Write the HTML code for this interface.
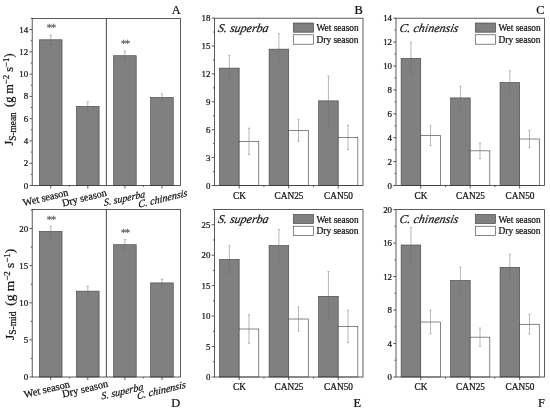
<!DOCTYPE html>
<html><head><meta charset="utf-8"><title>Figure</title>
<style>html,body{margin:0;padding:0;background:#fff;}svg{display:block}text{font-family:"Liberation Serif","Times New Roman",serif;fill:#111;stroke:#111;stroke-width:0.22px;}</style>
</head><body>
<svg width="550" height="412" viewBox="0 0 550 412">
<rect width="550" height="412" fill="#ffffff"/>
<rect x="39.44" y="39.79" width="22.60" height="145.71" fill="#808080" stroke="#454545" stroke-width="0.65"/>
<line x1="50.74" y1="35.22" x2="50.74" y2="44.36" stroke="#707070" stroke-width="0.5"/>
<line x1="49.64" y1="35.22" x2="51.84" y2="35.22" stroke="#707070" stroke-width="0.5"/>
<line x1="49.64" y1="44.36" x2="51.84" y2="44.36" stroke="#707070" stroke-width="0.5"/>
<rect x="76.51" y="106.41" width="22.60" height="79.09" fill="#808080" stroke="#454545" stroke-width="0.65"/>
<line x1="87.81" y1="101.84" x2="87.81" y2="110.97" stroke="#707070" stroke-width="0.5"/>
<line x1="86.71" y1="101.84" x2="88.91" y2="101.84" stroke="#707070" stroke-width="0.5"/>
<line x1="86.71" y1="110.97" x2="88.91" y2="110.97" stroke="#707070" stroke-width="0.5"/>
<rect x="113.59" y="55.72" width="22.60" height="129.78" fill="#808080" stroke="#454545" stroke-width="0.65"/>
<line x1="124.89" y1="50.93" x2="124.89" y2="60.51" stroke="#707070" stroke-width="0.5"/>
<line x1="123.79" y1="50.93" x2="125.99" y2="50.93" stroke="#707070" stroke-width="0.5"/>
<line x1="123.79" y1="60.51" x2="125.99" y2="60.51" stroke="#707070" stroke-width="0.5"/>
<rect x="150.66" y="97.49" width="22.60" height="88.01" fill="#808080" stroke="#454545" stroke-width="0.65"/>
<line x1="161.96" y1="93.82" x2="161.96" y2="101.17" stroke="#707070" stroke-width="0.5"/>
<line x1="160.86" y1="93.82" x2="163.06" y2="93.82" stroke="#707070" stroke-width="0.5"/>
<line x1="160.86" y1="101.17" x2="163.06" y2="101.17" stroke="#707070" stroke-width="0.5"/>
<line x1="106.35" y1="18.40" x2="106.35" y2="185.50" stroke="#333333" stroke-width="0.9"/>
<rect x="32.20" y="18.40" width="148.30" height="167.10" fill="none" stroke="#333333" stroke-width="0.8"/>
<line x1="29.50" y1="185.50" x2="32.20" y2="185.50" stroke="#333333" stroke-width="0.8"/>
<text x="28.20" y="188.50" font-size="8.9" text-anchor="end"  >0</text>
<line x1="29.50" y1="163.22" x2="32.20" y2="163.22" stroke="#333333" stroke-width="0.8"/>
<text x="28.20" y="166.22" font-size="8.9" text-anchor="end"  >2</text>
<line x1="29.50" y1="140.94" x2="32.20" y2="140.94" stroke="#333333" stroke-width="0.8"/>
<text x="28.20" y="143.94" font-size="8.9" text-anchor="end"  >4</text>
<line x1="29.50" y1="118.66" x2="32.20" y2="118.66" stroke="#333333" stroke-width="0.8"/>
<text x="28.20" y="121.66" font-size="8.9" text-anchor="end"  >6</text>
<line x1="29.50" y1="96.38" x2="32.20" y2="96.38" stroke="#333333" stroke-width="0.8"/>
<text x="28.20" y="99.38" font-size="8.9" text-anchor="end"  >8</text>
<line x1="29.50" y1="74.10" x2="32.20" y2="74.10" stroke="#333333" stroke-width="0.8"/>
<text x="28.20" y="77.10" font-size="8.9" text-anchor="end"  >10</text>
<line x1="29.50" y1="51.82" x2="32.20" y2="51.82" stroke="#333333" stroke-width="0.8"/>
<text x="28.20" y="54.82" font-size="8.9" text-anchor="end"  >12</text>
<line x1="29.50" y1="29.54" x2="32.20" y2="29.54" stroke="#333333" stroke-width="0.8"/>
<text x="28.20" y="32.54" font-size="8.9" text-anchor="end"  >14</text>
<line x1="30.80" y1="174.36" x2="32.20" y2="174.36" stroke="#333333" stroke-width="0.8"/>
<line x1="30.80" y1="152.08" x2="32.20" y2="152.08" stroke="#333333" stroke-width="0.8"/>
<line x1="30.80" y1="129.80" x2="32.20" y2="129.80" stroke="#333333" stroke-width="0.8"/>
<line x1="30.80" y1="107.52" x2="32.20" y2="107.52" stroke="#333333" stroke-width="0.8"/>
<line x1="30.80" y1="85.24" x2="32.20" y2="85.24" stroke="#333333" stroke-width="0.8"/>
<line x1="30.80" y1="62.96" x2="32.20" y2="62.96" stroke="#333333" stroke-width="0.8"/>
<line x1="30.80" y1="40.68" x2="32.20" y2="40.68" stroke="#333333" stroke-width="0.8"/>
<line x1="30.80" y1="18.40" x2="32.20" y2="18.40" stroke="#333333" stroke-width="0.8"/>
<text x="180.60" y="13.80" font-size="12.4" text-anchor="end"  >A</text>
<line x1="50.74" y1="185.50" x2="50.74" y2="188.50" stroke="#333333" stroke-width="0.8"/>
<line x1="87.81" y1="185.50" x2="87.81" y2="188.50" stroke="#333333" stroke-width="0.8"/>
<line x1="124.89" y1="185.50" x2="124.89" y2="188.50" stroke="#333333" stroke-width="0.8"/>
<line x1="161.96" y1="185.50" x2="161.96" y2="188.50" stroke="#333333" stroke-width="0.8"/>
<line x1="69.28" y1="185.50" x2="69.28" y2="186.80" stroke="#333333" stroke-width="0.8"/>
<line x1="143.43" y1="185.50" x2="143.43" y2="186.80" stroke="#333333" stroke-width="0.8"/>
<text x="50.94" y="30.90" font-size="10.2" text-anchor="middle" style="fill:#6c6c6c;stroke:#6c6c6c;stroke-width:0.3px" letter-spacing="-0.9" >**</text>
<text x="125.09" y="46.90" font-size="10.2" text-anchor="middle" style="fill:#6c6c6c;stroke:#6c6c6c;stroke-width:0.3px" letter-spacing="-0.9" >**</text>
<text transform="translate(23.80,206.20) rotate(-13.5)" font-size="10.3" >Wet season</text>
<text transform="translate(62.90,206.40) rotate(-13.8)" font-size="10.2" >Dry season</text>
<text transform="translate(104.00,205.90) rotate(-12) skewX(-11)" font-size="10" font-style="italic">S. superba</text>
<text transform="translate(138.60,207.80) rotate(-13.5) skewX(-11)" font-size="10.3" font-style="italic">C. chinensis</text>
<text transform="translate(13.40,99.40) rotate(-90)" font-size="12.3" text-anchor="middle">J<tspan font-size="9.3" dy="2.5">S-mean</tspan><tspan dy="-2.5" dx="2.2"> (g m</tspan><tspan font-size="8.8" dy="-4">−2</tspan><tspan dy="4"> s</tspan><tspan font-size="8.8" dy="-4">−1</tspan><tspan dy="4">)</tspan></text>
<rect x="39.44" y="231.42" width="22.60" height="145.58" fill="#808080" stroke="#454545" stroke-width="0.65"/>
<line x1="50.74" y1="226.23" x2="50.74" y2="236.61" stroke="#707070" stroke-width="0.5"/>
<line x1="49.64" y1="226.23" x2="51.84" y2="226.23" stroke="#707070" stroke-width="0.5"/>
<line x1="49.64" y1="236.61" x2="51.84" y2="236.61" stroke="#707070" stroke-width="0.5"/>
<rect x="76.51" y="291.15" width="22.60" height="85.85" fill="#808080" stroke="#454545" stroke-width="0.65"/>
<line x1="87.81" y1="286.33" x2="87.81" y2="295.97" stroke="#707070" stroke-width="0.5"/>
<line x1="86.71" y1="286.33" x2="88.91" y2="286.33" stroke="#707070" stroke-width="0.5"/>
<line x1="86.71" y1="295.97" x2="88.91" y2="295.97" stroke="#707070" stroke-width="0.5"/>
<rect x="113.59" y="244.70" width="22.60" height="132.30" fill="#808080" stroke="#454545" stroke-width="0.65"/>
<line x1="124.89" y1="239.58" x2="124.89" y2="249.82" stroke="#707070" stroke-width="0.5"/>
<line x1="123.79" y1="239.58" x2="125.99" y2="239.58" stroke="#707070" stroke-width="0.5"/>
<line x1="123.79" y1="249.82" x2="125.99" y2="249.82" stroke="#707070" stroke-width="0.5"/>
<rect x="150.66" y="282.91" width="22.60" height="94.09" fill="#808080" stroke="#454545" stroke-width="0.65"/>
<line x1="161.96" y1="279.20" x2="161.96" y2="286.62" stroke="#707070" stroke-width="0.5"/>
<line x1="160.86" y1="279.20" x2="163.06" y2="279.20" stroke="#707070" stroke-width="0.5"/>
<line x1="160.86" y1="286.62" x2="163.06" y2="286.62" stroke="#707070" stroke-width="0.5"/>
<line x1="106.35" y1="209.50" x2="106.35" y2="377.00" stroke="#333333" stroke-width="0.9"/>
<rect x="32.20" y="209.50" width="148.30" height="167.50" fill="none" stroke="#333333" stroke-width="0.8"/>
<line x1="29.50" y1="377.00" x2="32.20" y2="377.00" stroke="#333333" stroke-width="0.8"/>
<text x="28.20" y="380.00" font-size="8.9" text-anchor="end"  >0</text>
<line x1="29.50" y1="339.90" x2="32.20" y2="339.90" stroke="#333333" stroke-width="0.8"/>
<text x="28.20" y="342.90" font-size="8.9" text-anchor="end"  >5</text>
<line x1="29.50" y1="302.80" x2="32.20" y2="302.80" stroke="#333333" stroke-width="0.8"/>
<text x="28.20" y="305.80" font-size="8.9" text-anchor="end"  >10</text>
<line x1="29.50" y1="265.70" x2="32.20" y2="265.70" stroke="#333333" stroke-width="0.8"/>
<text x="28.20" y="268.70" font-size="8.9" text-anchor="end"  >15</text>
<line x1="29.50" y1="228.60" x2="32.20" y2="228.60" stroke="#333333" stroke-width="0.8"/>
<text x="28.20" y="231.60" font-size="8.9" text-anchor="end"  >20</text>
<line x1="30.80" y1="358.45" x2="32.20" y2="358.45" stroke="#333333" stroke-width="0.8"/>
<line x1="30.80" y1="321.35" x2="32.20" y2="321.35" stroke="#333333" stroke-width="0.8"/>
<line x1="30.80" y1="284.25" x2="32.20" y2="284.25" stroke="#333333" stroke-width="0.8"/>
<line x1="30.80" y1="247.15" x2="32.20" y2="247.15" stroke="#333333" stroke-width="0.8"/>
<line x1="30.80" y1="210.05" x2="32.20" y2="210.05" stroke="#333333" stroke-width="0.8"/>
<text x="180.20" y="406.60" font-size="12.4" text-anchor="end"  >D</text>
<line x1="50.74" y1="377.00" x2="50.74" y2="380.00" stroke="#333333" stroke-width="0.8"/>
<line x1="87.81" y1="377.00" x2="87.81" y2="380.00" stroke="#333333" stroke-width="0.8"/>
<line x1="124.89" y1="377.00" x2="124.89" y2="380.00" stroke="#333333" stroke-width="0.8"/>
<line x1="161.96" y1="377.00" x2="161.96" y2="380.00" stroke="#333333" stroke-width="0.8"/>
<line x1="69.28" y1="377.00" x2="69.28" y2="378.30" stroke="#333333" stroke-width="0.8"/>
<line x1="143.43" y1="377.00" x2="143.43" y2="378.30" stroke="#333333" stroke-width="0.8"/>
<text x="50.94" y="222.60" font-size="10.2" text-anchor="middle" style="fill:#6c6c6c;stroke:#6c6c6c;stroke-width:0.3px" letter-spacing="-0.9" >**</text>
<text x="125.09" y="236.10" font-size="10.2" text-anchor="middle" style="fill:#6c6c6c;stroke:#6c6c6c;stroke-width:0.3px" letter-spacing="-0.9" >**</text>
<text transform="translate(24.80,398.00) rotate(-13.5)" font-size="10.4" >Wet season</text>
<text transform="translate(63.00,397.60) rotate(-13.5)" font-size="10.5" >Dry season</text>
<text transform="translate(101.50,399.60) rotate(-13) skewX(-11)" font-size="10.2" font-style="italic">S. superba</text>
<text transform="translate(137.20,399.40) rotate(-13.5) skewX(-11)" font-size="10.25" font-style="italic">C. chinensis</text>
<text transform="translate(13.70,294.30) rotate(-90)" font-size="13.4" text-anchor="middle">J<tspan font-size="9.5" dy="2.5">S-mid</tspan><tspan dy="-2.5" dx="2.4"> (g m</tspan><tspan font-size="9.0" dy="-4">−2</tspan><tspan dy="4"> s</tspan><tspan font-size="9.0" dy="-4">−1</tspan><tspan dy="4">)</tspan></text>
<rect x="219.57" y="68.13" width="19.60" height="117.37" fill="#808080" stroke="#454545" stroke-width="0.65"/>
<line x1="229.37" y1="55.49" x2="229.37" y2="80.78" stroke="#707070" stroke-width="0.5"/>
<line x1="228.37" y1="55.49" x2="230.37" y2="55.49" stroke="#707070" stroke-width="0.5"/>
<line x1="228.37" y1="80.78" x2="230.37" y2="80.78" stroke="#707070" stroke-width="0.5"/>
<rect x="239.17" y="141.32" width="19.60" height="44.18" fill="#ffffff" stroke="#454545" stroke-width="0.65"/>
<line x1="248.97" y1="128.21" x2="248.97" y2="154.44" stroke="#707070" stroke-width="0.5"/>
<line x1="247.97" y1="128.21" x2="249.97" y2="128.21" stroke="#707070" stroke-width="0.5"/>
<line x1="247.97" y1="154.44" x2="249.97" y2="154.44" stroke="#707070" stroke-width="0.5"/>
<rect x="269.10" y="49.16" width="19.60" height="136.34" fill="#808080" stroke="#454545" stroke-width="0.65"/>
<line x1="278.90" y1="33.63" x2="278.90" y2="64.69" stroke="#707070" stroke-width="0.5"/>
<line x1="277.90" y1="33.63" x2="279.90" y2="33.63" stroke="#707070" stroke-width="0.5"/>
<line x1="277.90" y1="64.69" x2="279.90" y2="64.69" stroke="#707070" stroke-width="0.5"/>
<rect x="288.70" y="130.35" width="19.60" height="55.15" fill="#ffffff" stroke="#454545" stroke-width="0.65"/>
<line x1="298.50" y1="119.38" x2="298.50" y2="141.32" stroke="#707070" stroke-width="0.5"/>
<line x1="297.50" y1="119.38" x2="299.50" y2="119.38" stroke="#707070" stroke-width="0.5"/>
<line x1="297.50" y1="141.32" x2="299.50" y2="141.32" stroke="#707070" stroke-width="0.5"/>
<rect x="318.63" y="100.87" width="19.60" height="84.63" fill="#808080" stroke="#454545" stroke-width="0.65"/>
<line x1="328.43" y1="76.04" x2="328.43" y2="125.70" stroke="#707070" stroke-width="0.5"/>
<line x1="327.43" y1="76.04" x2="329.43" y2="76.04" stroke="#707070" stroke-width="0.5"/>
<line x1="327.43" y1="125.70" x2="329.43" y2="125.70" stroke="#707070" stroke-width="0.5"/>
<rect x="338.23" y="137.42" width="19.60" height="48.08" fill="#ffffff" stroke="#454545" stroke-width="0.65"/>
<line x1="348.03" y1="125.33" x2="348.03" y2="149.51" stroke="#707070" stroke-width="0.5"/>
<line x1="347.03" y1="125.33" x2="349.03" y2="125.33" stroke="#707070" stroke-width="0.5"/>
<line x1="347.03" y1="149.51" x2="349.03" y2="149.51" stroke="#707070" stroke-width="0.5"/>
<rect x="214.40" y="18.20" width="148.60" height="167.30" fill="none" stroke="#333333" stroke-width="0.8"/>
<line x1="211.70" y1="185.50" x2="214.40" y2="185.50" stroke="#333333" stroke-width="0.8"/>
<text x="210.40" y="188.50" font-size="8.9" text-anchor="end"  >0</text>
<line x1="211.70" y1="157.60" x2="214.40" y2="157.60" stroke="#333333" stroke-width="0.8"/>
<text x="210.40" y="160.60" font-size="8.9" text-anchor="end"  >3</text>
<line x1="211.70" y1="129.70" x2="214.40" y2="129.70" stroke="#333333" stroke-width="0.8"/>
<text x="210.40" y="132.70" font-size="8.9" text-anchor="end"  >6</text>
<line x1="211.70" y1="101.80" x2="214.40" y2="101.80" stroke="#333333" stroke-width="0.8"/>
<text x="210.40" y="104.80" font-size="8.9" text-anchor="end"  >9</text>
<line x1="211.70" y1="73.90" x2="214.40" y2="73.90" stroke="#333333" stroke-width="0.8"/>
<text x="210.40" y="76.90" font-size="8.9" text-anchor="end"  >12</text>
<line x1="211.70" y1="46.00" x2="214.40" y2="46.00" stroke="#333333" stroke-width="0.8"/>
<text x="210.40" y="49.00" font-size="8.9" text-anchor="end"  >15</text>
<line x1="211.70" y1="18.10" x2="214.40" y2="18.10" stroke="#333333" stroke-width="0.8"/>
<text x="210.40" y="21.10" font-size="8.9" text-anchor="end"  >18</text>
<line x1="213.00" y1="171.55" x2="214.40" y2="171.55" stroke="#333333" stroke-width="0.8"/>
<line x1="213.00" y1="143.65" x2="214.40" y2="143.65" stroke="#333333" stroke-width="0.8"/>
<line x1="213.00" y1="115.75" x2="214.40" y2="115.75" stroke="#333333" stroke-width="0.8"/>
<line x1="213.00" y1="87.85" x2="214.40" y2="87.85" stroke="#333333" stroke-width="0.8"/>
<line x1="213.00" y1="59.95" x2="214.40" y2="59.95" stroke="#333333" stroke-width="0.8"/>
<line x1="213.00" y1="32.05" x2="214.40" y2="32.05" stroke="#333333" stroke-width="0.8"/>
<text x="362.80" y="14.20" font-size="12.4" text-anchor="end"  >B</text>
<line x1="239.17" y1="185.50" x2="239.17" y2="188.50" stroke="#333333" stroke-width="0.8"/>
<line x1="288.70" y1="185.50" x2="288.70" y2="188.50" stroke="#333333" stroke-width="0.8"/>
<line x1="338.23" y1="185.50" x2="338.23" y2="188.50" stroke="#333333" stroke-width="0.8"/>
<line x1="263.93" y1="185.50" x2="263.93" y2="187.10" stroke="#333333" stroke-width="0.8"/>
<line x1="313.47" y1="185.50" x2="313.47" y2="187.10" stroke="#333333" stroke-width="0.8"/>
<text x="239.47" y="198.50" font-size="9.3" text-anchor="middle"  >CK</text>
<text x="289.00" y="198.50" font-size="9.3" text-anchor="middle"  >CAN25</text>
<text x="338.53" y="198.50" font-size="9.3" text-anchor="middle"  >CAN50</text>
<text transform="translate(217.40,31.50) skewX(-11)" font-size="12" font-style="italic">S. superba</text>
<rect x="293.30" y="23.00" width="20.30" height="9.20" fill="#808080" stroke="#454545" stroke-width="0.65"/>
<rect x="293.30" y="34.80" width="20.30" height="9.40" fill="#ffffff" stroke="#454545" stroke-width="0.65"/>
<text x="316.50" y="31.40" font-size="9.4" text-anchor="start"  >Wet season</text>
<text x="316.50" y="42.80" font-size="9.4" text-anchor="start"  >Dry season</text>
<rect x="401.13" y="58.35" width="19.60" height="127.15" fill="#808080" stroke="#454545" stroke-width="0.65"/>
<line x1="410.93" y1="42.34" x2="410.93" y2="74.37" stroke="#707070" stroke-width="0.5"/>
<line x1="409.93" y1="42.34" x2="411.93" y2="42.34" stroke="#707070" stroke-width="0.5"/>
<line x1="409.93" y1="74.37" x2="411.93" y2="74.37" stroke="#707070" stroke-width="0.5"/>
<rect x="420.73" y="135.67" width="19.60" height="49.83" fill="#ffffff" stroke="#454545" stroke-width="0.65"/>
<line x1="430.53" y1="125.75" x2="430.53" y2="145.59" stroke="#707070" stroke-width="0.5"/>
<line x1="429.53" y1="125.75" x2="431.53" y2="125.75" stroke="#707070" stroke-width="0.5"/>
<line x1="429.53" y1="145.59" x2="431.53" y2="145.59" stroke="#707070" stroke-width="0.5"/>
<rect x="450.60" y="97.91" width="19.60" height="87.59" fill="#808080" stroke="#454545" stroke-width="0.65"/>
<line x1="460.40" y1="86.08" x2="460.40" y2="109.74" stroke="#707070" stroke-width="0.5"/>
<line x1="459.40" y1="86.08" x2="461.40" y2="86.08" stroke="#707070" stroke-width="0.5"/>
<line x1="459.40" y1="109.74" x2="461.40" y2="109.74" stroke="#707070" stroke-width="0.5"/>
<rect x="470.20" y="150.84" width="19.60" height="34.66" fill="#ffffff" stroke="#454545" stroke-width="0.65"/>
<line x1="480.00" y1="143.08" x2="480.00" y2="158.61" stroke="#707070" stroke-width="0.5"/>
<line x1="479.00" y1="143.08" x2="481.00" y2="143.08" stroke="#707070" stroke-width="0.5"/>
<line x1="479.00" y1="158.61" x2="481.00" y2="158.61" stroke="#707070" stroke-width="0.5"/>
<rect x="500.07" y="82.49" width="19.60" height="103.01" fill="#808080" stroke="#454545" stroke-width="0.65"/>
<line x1="509.87" y1="70.78" x2="509.87" y2="94.20" stroke="#707070" stroke-width="0.5"/>
<line x1="508.87" y1="70.78" x2="510.87" y2="70.78" stroke="#707070" stroke-width="0.5"/>
<line x1="508.87" y1="94.20" x2="510.87" y2="94.20" stroke="#707070" stroke-width="0.5"/>
<rect x="519.67" y="139.01" width="19.60" height="46.49" fill="#ffffff" stroke="#454545" stroke-width="0.65"/>
<line x1="529.47" y1="130.29" x2="529.47" y2="147.74" stroke="#707070" stroke-width="0.5"/>
<line x1="528.47" y1="130.29" x2="530.47" y2="130.29" stroke="#707070" stroke-width="0.5"/>
<line x1="528.47" y1="147.74" x2="530.47" y2="147.74" stroke="#707070" stroke-width="0.5"/>
<rect x="396.00" y="18.20" width="148.40" height="167.30" fill="none" stroke="#333333" stroke-width="0.8"/>
<line x1="393.30" y1="185.50" x2="396.00" y2="185.50" stroke="#333333" stroke-width="0.8"/>
<text x="392.00" y="188.50" font-size="8.9" text-anchor="end"  >0</text>
<line x1="393.30" y1="161.60" x2="396.00" y2="161.60" stroke="#333333" stroke-width="0.8"/>
<text x="392.00" y="164.60" font-size="8.9" text-anchor="end"  >2</text>
<line x1="393.30" y1="137.70" x2="396.00" y2="137.70" stroke="#333333" stroke-width="0.8"/>
<text x="392.00" y="140.70" font-size="8.9" text-anchor="end"  >4</text>
<line x1="393.30" y1="113.80" x2="396.00" y2="113.80" stroke="#333333" stroke-width="0.8"/>
<text x="392.00" y="116.80" font-size="8.9" text-anchor="end"  >6</text>
<line x1="393.30" y1="89.90" x2="396.00" y2="89.90" stroke="#333333" stroke-width="0.8"/>
<text x="392.00" y="92.90" font-size="8.9" text-anchor="end"  >8</text>
<line x1="393.30" y1="66.00" x2="396.00" y2="66.00" stroke="#333333" stroke-width="0.8"/>
<text x="392.00" y="69.00" font-size="8.9" text-anchor="end"  >10</text>
<line x1="393.30" y1="42.10" x2="396.00" y2="42.10" stroke="#333333" stroke-width="0.8"/>
<text x="392.00" y="45.10" font-size="8.9" text-anchor="end"  >12</text>
<line x1="393.30" y1="18.20" x2="396.00" y2="18.20" stroke="#333333" stroke-width="0.8"/>
<text x="392.00" y="21.20" font-size="8.9" text-anchor="end"  >14</text>
<line x1="394.60" y1="173.55" x2="396.00" y2="173.55" stroke="#333333" stroke-width="0.8"/>
<line x1="394.60" y1="149.65" x2="396.00" y2="149.65" stroke="#333333" stroke-width="0.8"/>
<line x1="394.60" y1="125.75" x2="396.00" y2="125.75" stroke="#333333" stroke-width="0.8"/>
<line x1="394.60" y1="101.85" x2="396.00" y2="101.85" stroke="#333333" stroke-width="0.8"/>
<line x1="394.60" y1="77.95" x2="396.00" y2="77.95" stroke="#333333" stroke-width="0.8"/>
<line x1="394.60" y1="54.05" x2="396.00" y2="54.05" stroke="#333333" stroke-width="0.8"/>
<line x1="394.60" y1="30.15" x2="396.00" y2="30.15" stroke="#333333" stroke-width="0.8"/>
<text x="544.60" y="14.20" font-size="12.4" text-anchor="end"  >C</text>
<line x1="420.73" y1="185.50" x2="420.73" y2="188.50" stroke="#333333" stroke-width="0.8"/>
<line x1="470.20" y1="185.50" x2="470.20" y2="188.50" stroke="#333333" stroke-width="0.8"/>
<line x1="519.67" y1="185.50" x2="519.67" y2="188.50" stroke="#333333" stroke-width="0.8"/>
<line x1="445.47" y1="185.50" x2="445.47" y2="187.10" stroke="#333333" stroke-width="0.8"/>
<line x1="494.93" y1="185.50" x2="494.93" y2="187.10" stroke="#333333" stroke-width="0.8"/>
<text x="421.03" y="198.50" font-size="9.3" text-anchor="middle"  >CK</text>
<text x="470.50" y="198.50" font-size="9.3" text-anchor="middle"  >CAN25</text>
<text x="519.97" y="198.50" font-size="9.3" text-anchor="middle"  >CAN50</text>
<text transform="translate(399.00,31.50) skewX(-11)" font-size="12" font-style="italic">C. chinensis</text>
<rect x="475.30" y="23.00" width="20.30" height="9.20" fill="#808080" stroke="#454545" stroke-width="0.65"/>
<rect x="475.30" y="34.80" width="20.30" height="9.40" fill="#ffffff" stroke="#454545" stroke-width="0.65"/>
<text x="498.50" y="31.40" font-size="9.4" text-anchor="start"  >Wet season</text>
<text x="498.50" y="42.80" font-size="9.4" text-anchor="start"  >Dry season</text>
<rect x="219.57" y="259.46" width="19.60" height="117.54" fill="#808080" stroke="#454545" stroke-width="0.65"/>
<line x1="229.37" y1="245.64" x2="229.37" y2="273.29" stroke="#707070" stroke-width="0.5"/>
<line x1="228.37" y1="245.64" x2="230.37" y2="245.64" stroke="#707070" stroke-width="0.5"/>
<line x1="228.37" y1="273.29" x2="230.37" y2="273.29" stroke="#707070" stroke-width="0.5"/>
<rect x="239.17" y="329.01" width="19.60" height="47.99" fill="#ffffff" stroke="#454545" stroke-width="0.65"/>
<line x1="248.97" y1="314.70" x2="248.97" y2="343.32" stroke="#707070" stroke-width="0.5"/>
<line x1="247.97" y1="314.70" x2="249.97" y2="314.70" stroke="#707070" stroke-width="0.5"/>
<line x1="247.97" y1="343.32" x2="249.97" y2="343.32" stroke="#707070" stroke-width="0.5"/>
<rect x="269.10" y="245.64" width="19.60" height="131.36" fill="#808080" stroke="#454545" stroke-width="0.65"/>
<line x1="278.90" y1="229.62" x2="278.90" y2="261.66" stroke="#707070" stroke-width="0.5"/>
<line x1="277.90" y1="229.62" x2="279.90" y2="229.62" stroke="#707070" stroke-width="0.5"/>
<line x1="277.90" y1="261.66" x2="279.90" y2="261.66" stroke="#707070" stroke-width="0.5"/>
<rect x="288.70" y="319.02" width="19.60" height="57.98" fill="#ffffff" stroke="#454545" stroke-width="0.65"/>
<line x1="298.50" y1="306.90" x2="298.50" y2="331.14" stroke="#707070" stroke-width="0.5"/>
<line x1="297.50" y1="306.90" x2="299.50" y2="306.90" stroke="#707070" stroke-width="0.5"/>
<line x1="297.50" y1="331.14" x2="299.50" y2="331.14" stroke="#707070" stroke-width="0.5"/>
<rect x="318.63" y="296.31" width="19.60" height="80.69" fill="#808080" stroke="#454545" stroke-width="0.65"/>
<line x1="328.43" y1="271.64" x2="328.43" y2="320.97" stroke="#707070" stroke-width="0.5"/>
<line x1="327.43" y1="271.64" x2="329.43" y2="271.64" stroke="#707070" stroke-width="0.5"/>
<line x1="327.43" y1="320.97" x2="329.43" y2="320.97" stroke="#707070" stroke-width="0.5"/>
<rect x="338.23" y="326.39" width="19.60" height="50.61" fill="#ffffff" stroke="#454545" stroke-width="0.65"/>
<line x1="348.03" y1="310.13" x2="348.03" y2="342.65" stroke="#707070" stroke-width="0.5"/>
<line x1="347.03" y1="310.13" x2="349.03" y2="310.13" stroke="#707070" stroke-width="0.5"/>
<line x1="347.03" y1="342.65" x2="349.03" y2="342.65" stroke="#707070" stroke-width="0.5"/>
<rect x="214.40" y="209.60" width="148.60" height="167.40" fill="none" stroke="#333333" stroke-width="0.8"/>
<line x1="211.70" y1="377.00" x2="214.40" y2="377.00" stroke="#333333" stroke-width="0.8"/>
<text x="210.40" y="380.00" font-size="8.9" text-anchor="end"  >0</text>
<line x1="211.70" y1="346.55" x2="214.40" y2="346.55" stroke="#333333" stroke-width="0.8"/>
<text x="210.40" y="349.55" font-size="8.9" text-anchor="end"  >5</text>
<line x1="211.70" y1="316.10" x2="214.40" y2="316.10" stroke="#333333" stroke-width="0.8"/>
<text x="210.40" y="319.10" font-size="8.9" text-anchor="end"  >10</text>
<line x1="211.70" y1="285.65" x2="214.40" y2="285.65" stroke="#333333" stroke-width="0.8"/>
<text x="210.40" y="288.65" font-size="8.9" text-anchor="end"  >15</text>
<line x1="211.70" y1="255.20" x2="214.40" y2="255.20" stroke="#333333" stroke-width="0.8"/>
<text x="210.40" y="258.20" font-size="8.9" text-anchor="end"  >20</text>
<line x1="211.70" y1="224.75" x2="214.40" y2="224.75" stroke="#333333" stroke-width="0.8"/>
<text x="210.40" y="227.75" font-size="8.9" text-anchor="end"  >25</text>
<line x1="213.00" y1="361.77" x2="214.40" y2="361.77" stroke="#333333" stroke-width="0.8"/>
<line x1="213.00" y1="331.32" x2="214.40" y2="331.32" stroke="#333333" stroke-width="0.8"/>
<line x1="213.00" y1="300.88" x2="214.40" y2="300.88" stroke="#333333" stroke-width="0.8"/>
<line x1="213.00" y1="270.43" x2="214.40" y2="270.43" stroke="#333333" stroke-width="0.8"/>
<line x1="213.00" y1="239.97" x2="214.40" y2="239.97" stroke="#333333" stroke-width="0.8"/>
<line x1="213.00" y1="209.53" x2="214.40" y2="209.53" stroke="#333333" stroke-width="0.8"/>
<text x="361.00" y="406.70" font-size="12.4" text-anchor="end"  >E</text>
<line x1="239.17" y1="377.00" x2="239.17" y2="380.00" stroke="#333333" stroke-width="0.8"/>
<line x1="288.70" y1="377.00" x2="288.70" y2="380.00" stroke="#333333" stroke-width="0.8"/>
<line x1="338.23" y1="377.00" x2="338.23" y2="380.00" stroke="#333333" stroke-width="0.8"/>
<line x1="263.93" y1="377.00" x2="263.93" y2="378.60" stroke="#333333" stroke-width="0.8"/>
<line x1="313.47" y1="377.00" x2="313.47" y2="378.60" stroke="#333333" stroke-width="0.8"/>
<text x="239.47" y="390.00" font-size="9.3" text-anchor="middle"  >CK</text>
<text x="289.00" y="390.00" font-size="9.3" text-anchor="middle"  >CAN25</text>
<text x="338.53" y="390.00" font-size="9.3" text-anchor="middle"  >CAN50</text>
<text transform="translate(217.40,222.90) skewX(-11)" font-size="12" font-style="italic">S. superba</text>
<rect x="293.30" y="214.40" width="20.30" height="9.20" fill="#808080" stroke="#454545" stroke-width="0.65"/>
<rect x="293.30" y="226.20" width="20.30" height="9.40" fill="#ffffff" stroke="#454545" stroke-width="0.65"/>
<text x="316.50" y="222.80" font-size="9.4" text-anchor="start"  >Wet season</text>
<text x="316.50" y="234.20" font-size="9.4" text-anchor="start"  >Dry season</text>
<rect x="401.13" y="245.01" width="19.60" height="131.99" fill="#808080" stroke="#454545" stroke-width="0.65"/>
<line x1="410.93" y1="227.43" x2="410.93" y2="262.58" stroke="#707070" stroke-width="0.5"/>
<line x1="409.93" y1="227.43" x2="411.93" y2="227.43" stroke="#707070" stroke-width="0.5"/>
<line x1="409.93" y1="262.58" x2="411.93" y2="262.58" stroke="#707070" stroke-width="0.5"/>
<rect x="420.73" y="322.01" width="19.60" height="54.99" fill="#ffffff" stroke="#454545" stroke-width="0.65"/>
<line x1="430.53" y1="310.29" x2="430.53" y2="333.73" stroke="#707070" stroke-width="0.5"/>
<line x1="429.53" y1="310.29" x2="431.53" y2="310.29" stroke="#707070" stroke-width="0.5"/>
<line x1="429.53" y1="333.73" x2="431.53" y2="333.73" stroke="#707070" stroke-width="0.5"/>
<rect x="450.60" y="280.49" width="19.60" height="96.51" fill="#808080" stroke="#454545" stroke-width="0.65"/>
<line x1="460.40" y1="267.10" x2="460.40" y2="293.89" stroke="#707070" stroke-width="0.5"/>
<line x1="459.40" y1="267.10" x2="461.40" y2="267.10" stroke="#707070" stroke-width="0.5"/>
<line x1="459.40" y1="293.89" x2="461.40" y2="293.89" stroke="#707070" stroke-width="0.5"/>
<rect x="470.20" y="337.16" width="19.60" height="39.84" fill="#ffffff" stroke="#454545" stroke-width="0.65"/>
<line x1="480.00" y1="328.04" x2="480.00" y2="346.28" stroke="#707070" stroke-width="0.5"/>
<line x1="479.00" y1="328.04" x2="481.00" y2="328.04" stroke="#707070" stroke-width="0.5"/>
<line x1="479.00" y1="346.28" x2="481.00" y2="346.28" stroke="#707070" stroke-width="0.5"/>
<rect x="500.07" y="267.35" width="19.60" height="109.65" fill="#808080" stroke="#454545" stroke-width="0.65"/>
<line x1="509.87" y1="254.13" x2="509.87" y2="280.58" stroke="#707070" stroke-width="0.5"/>
<line x1="508.87" y1="254.13" x2="510.87" y2="254.13" stroke="#707070" stroke-width="0.5"/>
<line x1="508.87" y1="280.58" x2="510.87" y2="280.58" stroke="#707070" stroke-width="0.5"/>
<rect x="519.67" y="324.27" width="19.60" height="52.73" fill="#ffffff" stroke="#454545" stroke-width="0.65"/>
<line x1="529.47" y1="314.39" x2="529.47" y2="334.15" stroke="#707070" stroke-width="0.5"/>
<line x1="528.47" y1="314.39" x2="530.47" y2="314.39" stroke="#707070" stroke-width="0.5"/>
<line x1="528.47" y1="334.15" x2="530.47" y2="334.15" stroke="#707070" stroke-width="0.5"/>
<rect x="396.00" y="209.60" width="148.40" height="167.40" fill="none" stroke="#333333" stroke-width="0.8"/>
<line x1="393.30" y1="377.00" x2="396.00" y2="377.00" stroke="#333333" stroke-width="0.8"/>
<text x="392.00" y="380.00" font-size="8.9" text-anchor="end"  >0</text>
<line x1="393.30" y1="343.52" x2="396.00" y2="343.52" stroke="#333333" stroke-width="0.8"/>
<text x="392.00" y="346.52" font-size="8.9" text-anchor="end"  >4</text>
<line x1="393.30" y1="310.04" x2="396.00" y2="310.04" stroke="#333333" stroke-width="0.8"/>
<text x="392.00" y="313.04" font-size="8.9" text-anchor="end"  >8</text>
<line x1="393.30" y1="276.56" x2="396.00" y2="276.56" stroke="#333333" stroke-width="0.8"/>
<text x="392.00" y="279.56" font-size="8.9" text-anchor="end"  >12</text>
<line x1="393.30" y1="243.08" x2="396.00" y2="243.08" stroke="#333333" stroke-width="0.8"/>
<text x="392.00" y="246.08" font-size="8.9" text-anchor="end"  >16</text>
<line x1="393.30" y1="209.60" x2="396.00" y2="209.60" stroke="#333333" stroke-width="0.8"/>
<text x="392.00" y="212.60" font-size="8.9" text-anchor="end"  >20</text>
<line x1="394.60" y1="360.26" x2="396.00" y2="360.26" stroke="#333333" stroke-width="0.8"/>
<line x1="394.60" y1="326.78" x2="396.00" y2="326.78" stroke="#333333" stroke-width="0.8"/>
<line x1="394.60" y1="293.30" x2="396.00" y2="293.30" stroke="#333333" stroke-width="0.8"/>
<line x1="394.60" y1="259.82" x2="396.00" y2="259.82" stroke="#333333" stroke-width="0.8"/>
<line x1="394.60" y1="226.34" x2="396.00" y2="226.34" stroke="#333333" stroke-width="0.8"/>
<text x="544.80" y="406.70" font-size="12.4" text-anchor="end"  >F</text>
<line x1="420.73" y1="377.00" x2="420.73" y2="380.00" stroke="#333333" stroke-width="0.8"/>
<line x1="470.20" y1="377.00" x2="470.20" y2="380.00" stroke="#333333" stroke-width="0.8"/>
<line x1="519.67" y1="377.00" x2="519.67" y2="380.00" stroke="#333333" stroke-width="0.8"/>
<line x1="445.47" y1="377.00" x2="445.47" y2="378.60" stroke="#333333" stroke-width="0.8"/>
<line x1="494.93" y1="377.00" x2="494.93" y2="378.60" stroke="#333333" stroke-width="0.8"/>
<text x="421.03" y="390.00" font-size="9.3" text-anchor="middle"  >CK</text>
<text x="470.50" y="390.00" font-size="9.3" text-anchor="middle"  >CAN25</text>
<text x="519.97" y="390.00" font-size="9.3" text-anchor="middle"  >CAN50</text>
<text transform="translate(399.00,222.90) skewX(-11)" font-size="12" font-style="italic">C. chinensis</text>
<rect x="475.30" y="214.40" width="20.30" height="9.20" fill="#808080" stroke="#454545" stroke-width="0.65"/>
<rect x="475.30" y="226.20" width="20.30" height="9.40" fill="#ffffff" stroke="#454545" stroke-width="0.65"/>
<text x="498.50" y="222.80" font-size="9.4" text-anchor="start"  >Wet season</text>
<text x="498.50" y="234.20" font-size="9.4" text-anchor="start"  >Dry season</text>
</svg>
</body></html>
